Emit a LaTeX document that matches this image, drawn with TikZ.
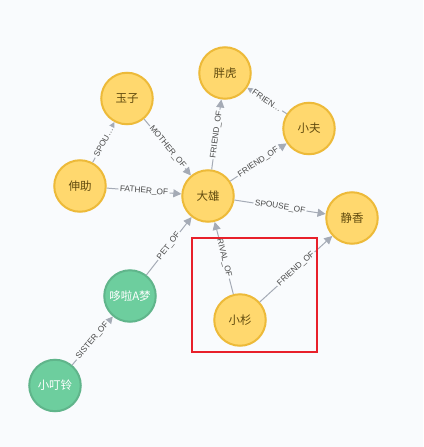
\documentclass[tikz,border=0pt]{standalone}
\usepackage{fontspec}
\setmainfont{Liberation Sans}
\newfontfamily\cjk{Noto Sans CJK SC}
\usetikzlibrary{arrows.meta}
\definecolor{bgc}{HTML}{F9FBFD}
\definecolor{pfill}{HTML}{FFD86E}
\definecolor{pstroke}{HTML}{EDBA39}
\definecolor{ptext}{HTML}{604A0E}
\definecolor{gfill}{HTML}{6DCE9E}
\definecolor{gstroke}{HTML}{60B58B}
\definecolor{edgec}{HTML}{A5ABB6}
\definecolor{lblc}{HTML}{4A4A4A}
\definecolor{boxc}{HTML}{E8202A}

\begin{document}
\begin{tikzpicture}[x=1pt,y=-1pt,
  person/.style={circle,draw=pstroke,fill=pfill,line width=2pt,minimum size=51.5pt,
    inner sep=0pt,text=ptext,font=\cjk\fontsize{11.5}{12}\selectfont},
  pet/.style={person,draw=gstroke,fill=gfill,text=white},
  rel/.style={draw=edgec,line width=1pt,-{Triangle[length=8pt,width=8pt]}},
  lbl/.style={sloped,midway,fill=bgc,inner sep=1.5pt,text=lblc,font=\fontsize{8.3}{9}\selectfont}]
\useasboundingbox[fill=bgc] (0,0) rectangle (423,447);
% characters
\node[person] (panghu) at (225,73) {胖虎};
\node[person] (yuzi) at (127,98.5) {玉子};
\node[person] (xiaofu) at (309,128.5) {小夫};
\node[person] (shenzhu) at (80,186) {伸助};
\node[person] (daxiong) at (208,196) {大雄};
\node[person] (jingxiang) at (352,218) {静香};
\node[pet] (duola) at (130,296) {哆啦A梦};
\node[person] (xiaoshan) at (240,320) {小杉};
\node[pet] (xiaodl) at (55,385.5) {小叮铃};
% relations
\draw[rel] (shenzhu) -- node[lbl] {SPOU…} (yuzi);
\draw[rel] (yuzi) -- node[lbl] {MOTHER\_OF} (daxiong);
\draw[rel] (shenzhu) -- node[lbl] {FATHER\_OF} (daxiong);
\draw[rel] (daxiong) -- node[lbl] {FRIEND\_OF} (panghu);
\draw[rel] (xiaofu) -- node[lbl] {FRIEN…} (panghu);
\draw[rel] (daxiong) -- node[lbl] {FRIEND\_OF} (xiaofu);
\draw[rel] (daxiong) -- node[lbl] {SPOUSE\_OF} (jingxiang);
\draw[rel] (duola) -- node[lbl] {PET\_OF} (daxiong);
\draw[rel] (xiaoshan) -- node[lbl] {RIVAL\_OF} (daxiong);
\draw[rel] (xiaoshan) -- node[lbl] {FRIEND\_OF} (jingxiang);
\draw[rel] (xiaodl) -- node[lbl] {SISTER\_OF} (duola);
% highlight
\draw[boxc,line width=1.5pt] (192,238) rectangle (317,352);
\end{tikzpicture}
\end{document}
